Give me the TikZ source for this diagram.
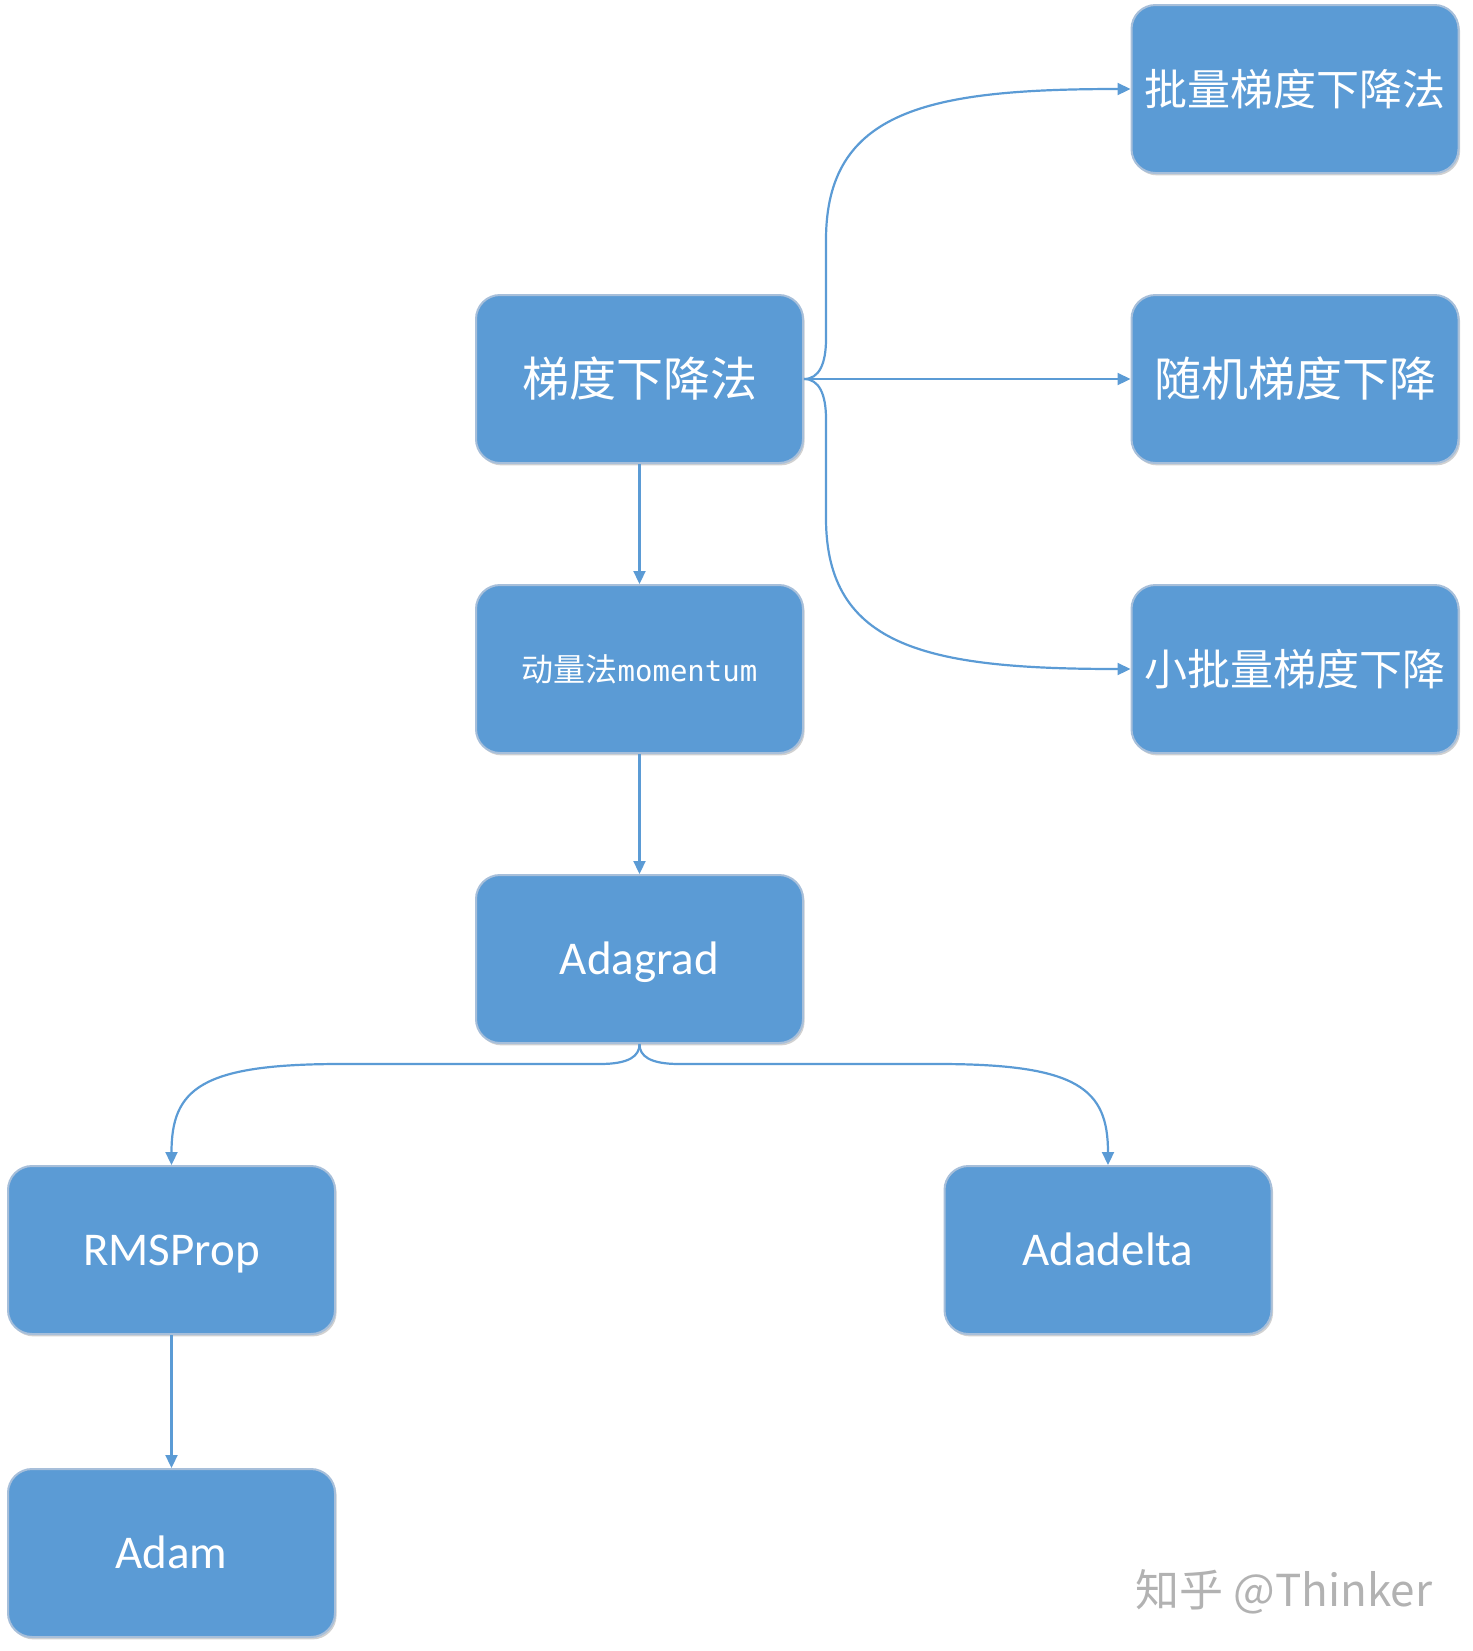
\documentclass[tikz,border=0pt]{standalone}
\usepackage{fontspec}
\setmainfont{Carlito}
\newfontfamily\cjk{Noto Sans CJK SC}
\newfontfamily\mono{DejaVu Sans Mono}
\usepackage{tikz}
\usetikzlibrary{arrows.meta}
\usetikzlibrary{shadows}
\definecolor{boxblue}{HTML}{5B9BD5}
\definecolor{boxedge}{HTML}{A7BFDA}
\definecolor{linkblue}{HTML}{5B9BD5}
\colorlet{markgray}{black!30}

\begin{document}
\begin{tikzpicture}[
x=0.5pt,y=-0.5pt,
MyBox/.style={draw=boxedge,fill=boxblue,line width=1pt,rounded corners=12pt,
  minimum width=163.5pt,minimum height=84pt,inner sep=0pt,text=white,
  drop shadow={shadow xshift=0.8pt,shadow yshift=-1.2pt,opacity=0.18,fill=black}},
MyArrow/.style={draw=linkblue,line width=1.1pt,-{Triangle[length=6.5pt,width=6pt]}},
BigCn/.style={font=\cjk\fontsize{23.5}{28}\selectfont},
SmallCn/.style={font=\cjk\fontsize{21.5}{26}\selectfont},
Latin/.style={font=\fontsize{23.5}{28}\selectfont,text height=15.1pt,text depth=0pt},
MyMark/.style={font=\cjk\fontsize{22}{26}\selectfont,text=markgray}
]
\useasboundingbox (0,0) rectangle (1473,1651);
% \draw[color=gray,step=100,dotted] (0,0) grid (1473,1651);

% main line
\node[MyBox,BigCn] (grad) at (639.5,379) {梯度下降法};
\node[MyBox] (mom) at (639.5,669) {{\cjk\fontsize{16}{20}\selectfont 动量法}{\mono\fontsize{14.5}{20}\selectfont momentum}};
\node[MyBox,Latin] (adagrad) at (639.5,959) {Adagrad};
\node[MyBox,Latin] (rms) at (171.5,1250) {RMSProp};
\node[MyBox,Latin] (adam) at (171.5,1553) {Adam};
\node[MyBox,Latin] (adadelta) at (1108,1250) {Adadelta};

% variants
\node[MyBox,SmallCn] (bgd) at (1295,89) {批量梯度下降法};
\node[MyBox,BigCn] (sgd) at (1295,379) {随机梯度下降};
\node[MyBox,SmallCn] (mbgd) at (1295,669) {小批量梯度下降};

\node[MyMark] (mark) at (1284,1592) {知乎 @Thinker};

\draw[MyArrow] (grad.south) -- (mom.north);
\draw[MyArrow] (mom.south) -- (adagrad.north);
\draw[MyArrow] (rms.south) -- (adam.north);
\draw[MyArrow] (grad.east) -- (sgd.west);

\draw[MyArrow] (grad.east) .. controls +(15,0) and +(0,25) .. ++(22,-40) -- ++(0,-99) .. controls +(0,-130) and +(-202,0) .. (bgd.west);
\draw[MyArrow] (grad.east) .. controls +(15,0) and +(0,-25) .. ++(22,40) -- ++(0,99) .. controls +(0,130) and +(-202,0) .. (mbgd.west);

\draw[MyArrow] (adagrad.south) .. controls +(0,12) and +(30,0) .. ++(-40,20) -- ++(-259,0) .. controls +(-140,0) and +(0,-76) .. (rms.north);
\draw[MyArrow] (adagrad.south) .. controls +(0,12) and +(-30,0) .. ++(40,20) -- ++(259,0) .. controls +(140,0) and +(0,-76) .. (adadelta.north);

\end{tikzpicture}
\end{document}
